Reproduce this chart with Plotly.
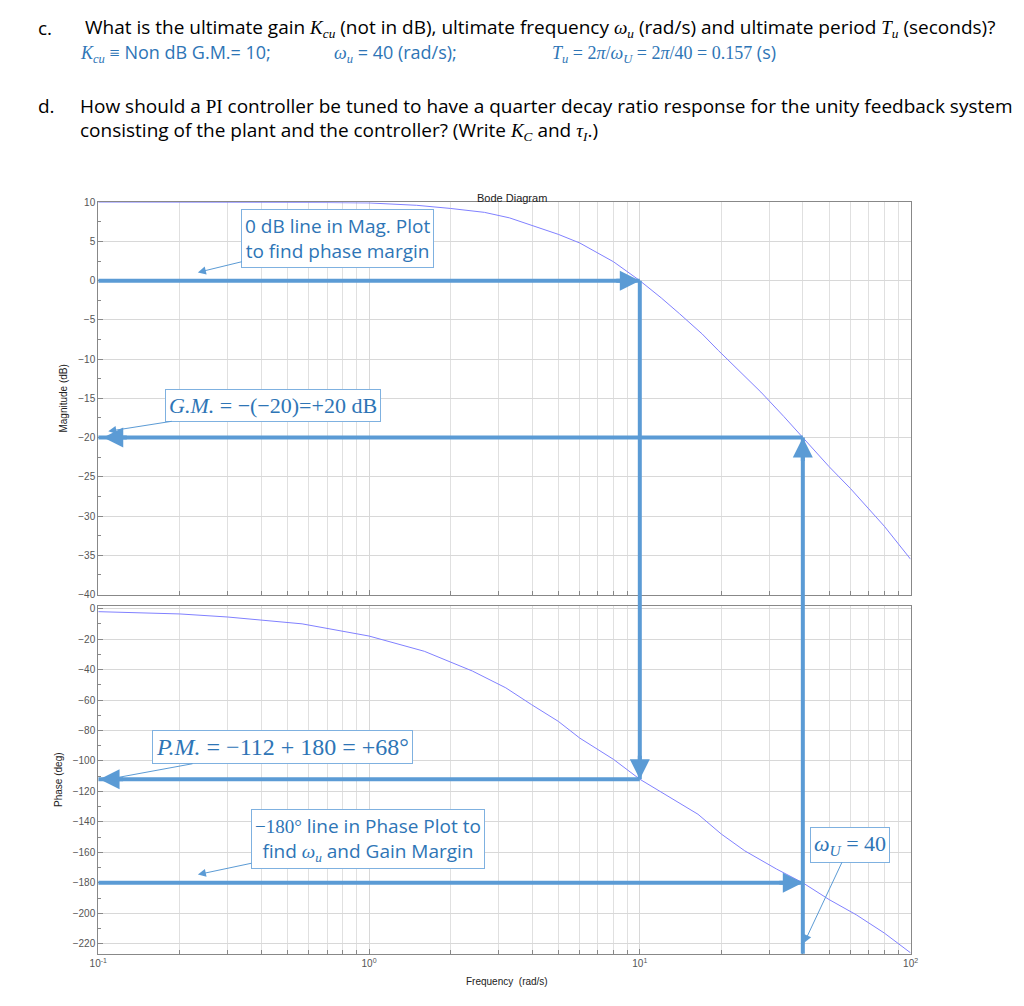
import plotly.graph_objects as go
import math

# ---- data ----
freq_mag = [0.1, 0.2, 0.3, 0.5, 0.7, 1, 1.5, 2, 2.67, 3.3, 4, 5, 6, 8, 10, 12, 14, 17, 19.5, 24, 28, 34, 40, 50, 60, 80, 100]
mag_db = [10, 10, 10, 10, 9.95, 9.9, 9.6, 9.2, 8.7, 8.0, 7.0, 5.9, 4.8, 2.4, 0, -2.2, -4.2, -6.8, -8.9, -11.9, -14.2, -17.3, -20, -23.7, -26.5, -31.3, -35.5]
freq_ph = [0.1, 0.2, 0.3, 0.566, 1, 1.6, 2.41, 3.2, 3.98, 5, 6, 8, 10, 13, 16.4, 20, 24.4, 32, 40, 50, 63, 80, 100]
phase_deg = [-2, -3.5, -5.5, -10, -18, -28, -41, -52, -63, -74, -85, -99, -112, -124, -135, -148, -159, -171, -180, -191, -201, -213, -226]
x_ticks = [0.1, 1, 10, 100]
x_ticklabels = ["10<sup>-1</sup>", "10<sup>0</sup>", "10<sup>1</sup>", "10<sup>2</sup>"]
x_minor = [m * 10 ** d for d in (-1, 0, 1) for m in range(2, 10)]
pm_freq, pm_phase = 10, -112
gc_mag = 0
wu, gm_mag, pc_phase = 40, -20, -180

W, H = 1024, 1006
SC, OFF = 0.9866, 13.5

def fx(p):  # target pixel x -> paper
    return ((p - OFF) / SC) / W

def fy(p):  # target pixel y -> paper
    return 1 - ((p - OFF) / SC) / H

XD = [fx(95), fx(910)]
MAG_RANGE = [-40, 10]
PH_RANGE = [-226.6, 2]
MAG_DOM = [fy(593), fy(202)]
PH_DOM = [fy(951), fy(604)]

def mag_paper(v):
    return MAG_DOM[0] + (v - MAG_RANGE[0]) / (MAG_RANGE[1] - MAG_RANGE[0]) * (MAG_DOM[1] - MAG_DOM[0])

def ph_paper(v):
    return PH_DOM[0] + (v - PH_RANGE[0]) / (PH_RANGE[1] - PH_RANGE[0]) * (PH_DOM[1] - PH_DOM[0])

BLUE = "#5b9bd5"
TXT = "#2e75b6"
CURVE = "#8080ff"

fig = go.Figure()
fig.add_trace(go.Scatter(x=freq_mag, y=mag_db, mode="lines", line=dict(color=CURVE, width=1),
                         xaxis="x", yaxis="y", showlegend=False))
fig.add_trace(go.Scatter(x=freq_ph, y=phase_deg, mode="lines", line=dict(color=CURVE, width=1),
                         xaxis="x2", yaxis="y2", showlegend=False))

TF = dict(size=10, color="#555", family="Liberation Sans")
xcommon = dict(type="log", range=[-1, 2], domain=XD, showline=True, mirror=True, linecolor="#888",
               ticks="inside", tickcolor="#888", showgrid=True, gridcolor="#d8d8d8",
               minor=dict(tickvals=x_minor, showgrid=True, gridcolor="#e0e0e0", ticks="inside", tickcolor="#888", ticklen=4),
               tickvals=x_ticks, ticktext=x_ticklabels, tickfont=TF, zeroline=False)
fig.update_layout(
    width=W, height=H,
    margin=dict(l=0, r=0, t=0, b=0), paper_bgcolor="white", plot_bgcolor="white",
    xaxis=dict(**xcommon, anchor="y", showticklabels=False),
    xaxis2=dict(**xcommon, anchor="y2"),
    yaxis=dict(domain=MAG_DOM, range=MAG_RANGE, dtick=5, showline=True, mirror=True, linecolor="#888",
               ticks="inside", tickcolor="#888", gridcolor="#d8d8d8", zeroline=False,
               minor=dict(dtick=2.5, ticks="inside", tickcolor="#888", ticklen=3),
               tickfont=TF,
               title=dict(text="Magnitude (dB)", font=dict(size=10, color="#222", family="Liberation Sans"), standoff=8)),
    yaxis2=dict(domain=PH_DOM, range=PH_RANGE, dtick=20, showline=True, mirror=True, linecolor="#888",
                ticks="inside", tickcolor="#888", gridcolor="#d8d8d8", zeroline=False,
                minor=dict(dtick=10, ticks="inside", tickcolor="#888", ticklen=3),
                tickfont=TF,
                title=dict(text="Phase (deg)", font=dict(size=10, color="#222", family="Liberation Sans"), standoff=8)),
)

shapes = []
def ln(**k):
    shapes.append(dict(type="line", line=dict(color=BLUE, width=4), **k))

ln(xref="x", yref="y", x0=0.1, x1=pm_freq, y0=gc_mag, y1=gc_mag)
ln(xref="x", yref="y", x0=0.1, x1=wu, y0=gm_mag, y1=gm_mag)
ln(xref="x2", yref="y2", x0=0.1, x1=pm_freq, y0=pm_phase, y1=pm_phase)
ln(xref="x2", yref="y2", x0=0.1, x1=wu, y0=pc_phase, y1=pc_phase)
ln(xref="x", yref="paper", x0=pm_freq, x1=pm_freq, y0=ph_paper(pm_phase), y1=mag_paper(gc_mag))
ln(xref="x", yref="paper", x0=wu, x1=wu, y0=PH_DOM[0], y1=mag_paper(gm_mag))
fig.update_layout(shapes=shapes)

ann = []
def head(xref, yref, x, y, ax, ay):
    ann.append(dict(xref=xref, yref=yref, x=x, y=y, ax=ax, ay=ay, text="", showarrow=True,
                    arrowhead=2, arrowsize=1, arrowwidth=4, arrowcolor=BLUE))

head("x", "y", math.log10(pm_freq), gc_mag, -25, 0)
head("paper", "paper", XD[0] + 0.005, mag_paper(gm_mag), 25, 0)
head("x2", "y2", math.log10(pm_freq), pm_phase, 0, -25)
head("x2", "y2", -0.995, pm_phase, 25, 0)
head("x2", "y2", math.log10(wu), pc_phase, -25, 0)
head("x", "y", math.log10(wu), gm_mag, 0, 25)

def box(xref, yref, x, y, ax, ay, text, size=19, fam="Open Sans"):
    ann.append(dict(xref=xref, yref=yref, x=x, y=y, ax=ax, ay=ay, text=text, showarrow=True,
                    arrowhead=2, arrowsize=1.6, arrowwidth=1, arrowcolor=BLUE,
                    font=dict(size=size, color=TXT, family=fam), bgcolor="white",
                    bordercolor="#7fb1e0", borderwidth=1, borderpad=3, align="center"))

SER = "<span style='font-family:Liberation Serif'>%s</span>"
box("x", "y", -0.632, 1.05, 140, -34, "0 dB line in Mag. Plot<br>to find phase margin")
box("x", "y", -0.963, -19.2, 165, -26, SER % "<i>G.M.</i> = −(−20)=+20 dB", 22)
box("x2", "y2", -0.963, pm_phase, 174, -32, SER % "<i>P.M.</i> = −112 + 180 = +68°", 24)
box("x2", "y2", -0.632, -174.6, 170, -36,
    SER % "−180°" + " line in Phase Plot to<br>find " + SER % "<i>ω<sub>u</sub></i>" + " and Gain Margin")
box("x2", "y2", 1.607, -219.4, 46, -98, SER % "<i>ω<sub>U</sub></i> = 40", 22)

def txt(x, y, t, size=19, color="black", fam="Open Sans"):
    ann.append(dict(xref="paper", yref="paper", x=fx(x), y=fy(y), text=t, showarrow=False,
                    xanchor="left", yanchor="middle", font=dict(size=size, color=color, family=fam)))

S = "<span style='font-family:Liberation Serif'><i>%s</i></span>"
txt(33, 28, "c.")
txt(80, 28, "What is the ultimate gain " + S % "K<sub>cu</sub>" + " (not in dB), ultimate frequency " + S % "ω<sub>u</sub>"
    + " (rad/s) and ultimate period " + S % "T<sub>u</sub>" + " (seconds)?", size=19)
txt(75, 53, S % "K<sub>cu</sub>" + " ≡ Non dB G.M.= 10;", color=TXT, size=18)
txt(330, 53, S % "ω<sub>u</sub>" + " = 40 (rad/s);", color=TXT, size=18)
txt(548, 53, S % "T<sub>u</sub>" + SER % " = 2<i>π</i>/<i>ω<sub>U</sub></i> = 2<i>π</i>/40 = 0.157" + " (s)", color=TXT, size=18)
txt(33, 106, "d.")
txt(75, 106, "How should a " + SER % "PI" + " controller be tuned to have a quarter decay ratio response for the unity feedback system", size=19)
txt(75, 131, "consisting of the plant and the controller? (Write " + S % "K<sub>C</sub>" + " and " + S % "τ<sub>I</sub>" + ".)", size=19)

ann.append(dict(xref="paper", yref="paper", x=fx(510), y=fy(190), text="Bode Diagram", showarrow=False,
                font=dict(size=11, color="#222", family="Liberation Sans")))
ann.append(dict(xref="paper", yref="paper", x=fx(505), y=fy(986), text="Frequency  (rad/s)", showarrow=False,
                font=dict(size=10, color="#222", family="Liberation Sans")))
fig.update_layout(annotations=ann)

fig.write_html("out.html")
